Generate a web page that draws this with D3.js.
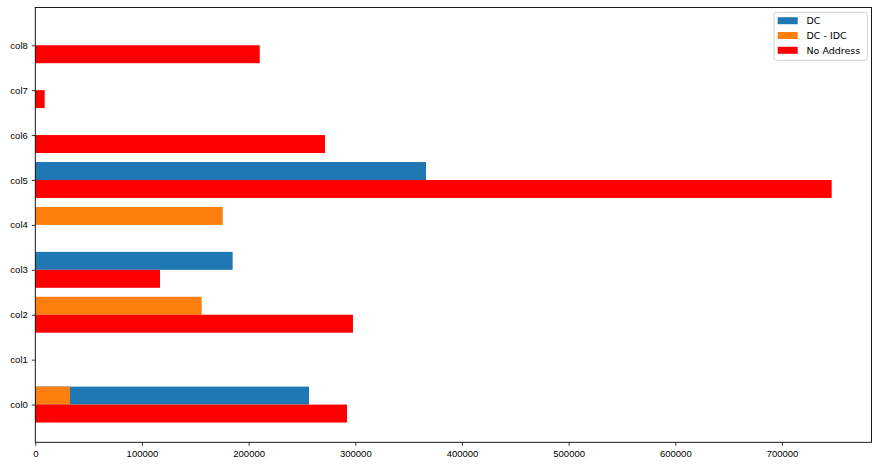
<!DOCTYPE html>
<html>
<head>
<meta charset="utf-8">
<script src="https://cdn.jsdelivr.net/npm/d3@7"></script>
<style>
  body { margin: 0; background: #fff; }
  svg { font-family: "DejaVu Sans", sans-serif; }
  .axis text { font-size: 9.5px; fill: #000; }
  .axis line { stroke: #000; stroke-width: 0.8; }
  .legend text { font-size: 9.5px; fill: #000; }
</style>
</head>
<body>
<svg id="chart" width="879" height="466"></svg>
<script>
// values
const categories = ["col0", "col1", "col2", "col3", "col4", "col5", "col6", "col7", "col8"]
const dc = [256600, 0, 0, 185000, 0, 366300, 0, 0, 0]
const dcIdc = [32500, 0, 156000, 0, 175700, 0, 0, 0, 0]
const noAddress = [292200, 0, 297800, 116900, 0, 746600, 271600, 8800, 210400]
const xTicks = [0, 100000, 200000, 300000, 400000, 500000, 600000, 700000]

// drawn in this order, later ones cover earlier ones
const series = [
  { name: "DC", values: dc, color: "#1f77b4", offset: 0.2 },
  { name: "DC - IDC", values: dcIdc, color: "#ff7f0e", offset: 0.2 },
  { name: "No Address", values: noAddress, color: "#ff0000", offset: -0.2 }
]

const svg = d3.select("#chart")
const m = { left: 35.3, right: 871.5, top: 7.5, bottom: 442.3 }
const barH = 0.4

const xMax = d3.max(series.flatMap(s => s.values)) * 1.05
const x = d3.scaleLinear().domain([0, xMax]).range([m.left, m.right])

// bars span -0.4..8.4, matplotlib adds 5% margin
const lo = -barH, hi = categories.length - 1 + barH
const pad = (hi - lo) * 0.05
const y = d3.scaleLinear().domain([lo - pad, hi + pad]).range([m.bottom, m.top])

series.forEach(s => {
  svg.append("g")
    .selectAll("rect")
    .data(s.values)
    .join("rect")
    .attr("x", x(0))
    .attr("y", (d, i) => y(i + s.offset + barH / 2))
    .attr("width", d => x(d) - x(0))
    .attr("height", y(0) - y(barH))
    .attr("fill", s.color)
})

// x axis
svg.append("g")
  .attr("class", "axis")
  .attr("transform", "translate(0," + m.bottom + ")")
  .call(d3.axisBottom(x).tickValues(xTicks).tickFormat(d3.format("d")).tickSize(3.5).tickPadding(4))
  .call(g => g.select(".domain").remove())

// y axis
svg.append("g")
  .attr("class", "axis")
  .attr("transform", "translate(" + m.left + ",0)")
  .call(d3.axisLeft(y).tickValues(d3.range(categories.length)).tickFormat(i => categories[i]).tickSize(3.5).tickPadding(4))
  .call(g => g.select(".domain").remove())

// frame
svg.append("rect")
  .attr("x", m.left)
  .attr("y", m.top)
  .attr("width", m.right - m.left)
  .attr("height", m.bottom - m.top)
  .attr("fill", "none")
  .attr("stroke", "#000")
  .attr("stroke-width", 0.9)

// legend
const lg = svg.append("g").attr("class", "legend").attr("transform", "translate(774,12.3)")
lg.append("rect")
  .attr("width", 93.3)
  .attr("height", 48)
  .attr("rx", 2.5)
  .attr("fill", "#fff")
  .attr("fill-opacity", 0.8)
  .attr("stroke", "#d5d5d5")

const item = lg.selectAll("g.item")
  .data(series)
  .join("g")
  .attr("class", "item")
  .attr("transform", (d, i) => "translate(0," + (8.4 + i * 14.8) + ")")

item.append("rect")
  .attr("x", 3.7)
  .attr("y", -3.5)
  .attr("width", 20)
  .attr("height", 7)
  .attr("fill", d => d.color)

item.append("text")
  .attr("x", 32.5)
  .attr("dy", "0.35em")
  .text(d => d.name)
</script>
</body>
</html>
